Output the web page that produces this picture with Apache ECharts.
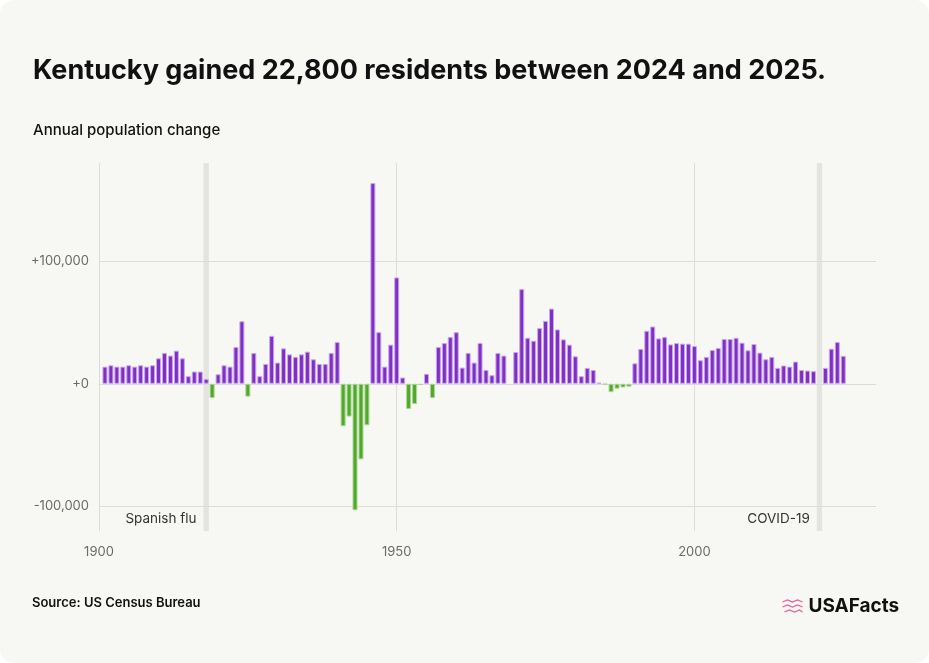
<!DOCTYPE html>
<html>
<head>
<meta charset="utf-8">
<script src="https://cdn.jsdelivr.net/npm/echarts@6/dist/echarts.min.js"></script>
<style>
  html, body { margin: 0; padding: 0; background: #ffffff; }
  #chart { width: 929px; height: 663px; background: #f7f7f3; border-radius: 14px; overflow: hidden; }
</style>
</head>
<body>
<div id="chart"></div>
<script>
// Kentucky annual population change, one value per year (1901 ... 2025)
const firstYear = 1901;
const popChange = [
  14000, 15100, 14000, 14000, 15100, 14000, 15100, 14000, 15100, 20800,   // 1901-1910
  25100, 23000, 27000, 20800, 6200, 10000, 10000, 4000, -11600, 7800,     // 1911-1920
  15100, 14000, 30000, 51000, -10500, 25100, 6200, 16200, 39100, 17300,   // 1921-1930
  28900, 24000, 21900, 24000, 26200, 20000, 16200, 16200, 25100, 34000,   // 1931-1940
  -34600, -26700, -103100, -61600, -33800, 163600, 42100, 14000, 31900, 86700, // 1941-1950
  5100, -20500, -16500, -1000, 8100, -11600, 30000, 33200, 38100, 42100,  // 1951-1960
  13200, 25100, 17300, 33200, 11300, 7000, 25100, 23000, null, 25900,     // 1961-1970
  77200, 37500, 35100, 45400, 51300, 61300, 44300, 36200, 31900, 22400,   // 1971-1980
  6200, 13000, 11300, 1000, -500, -6800, -4000, -3000, -2400, 16700,      // 1981-1990
  28400, 43200, 46700, 37000, 38100, 32100, 33200, 32700, 32700, 30800,   // 1991-2000
  19200, 21900, 27500, 29200, 36500, 36500, 37500, 33500, 27300, 32400,   // 2001-2010
  25400, 20000, 21900, 13000, 14900, 14000, 18100, 11300, 10800, 10300,   // 2011-2020
  null, 13000, 28600, 34000, 22800                                        // 2021-2025
];
const years = popChange.map((v, i) => firstYear + i);

// shaded events
const eventNames = ['Spanish flu', 'COVID-19'];
const eventYears = [1918, 2021];

const yTicks = [-100000, 0, 100000];
const xTicks = [1900, 1950, 2000];

const purple = '#7f2fc5';
const purpleEdge = '#c7a8e8';
const green = '#52a82a';
const greenEdge = '#aad697';

let chart = echarts.init(document.getElementById('chart'));

// one bar per year, coloured by sign
const barData = years.map((y, i) => {
  let v = popChange[i];
  let neg = v !== null && v < 0;
  return {
    value: [y, v],
    itemStyle: {
      color: neg ? green : purple,
      borderColor: neg ? greenEdge : purpleEdge,
      borderWidth: 1
    }
  };
});

let option = {
  backgroundColor: 'transparent',
  animation: false,
  textStyle: { fontFamily: 'Inter' },
  title: [
    {
      text: 'Kentucky gained 22,800 residents between 2024 and 2025.',
      left: 28, top: 52,
      textStyle: { fontSize: 27, fontWeight: 700, color: '#111111', fontFamily: 'Inter', letterSpacing: -0.8 }
    },
    {
      text: 'Annual population change',
      left: 28, top: 118,
      textStyle: { fontSize: 15, fontWeight: 500, color: '#111111', fontFamily: 'Inter', letterSpacing: -0.2 }
    }
  ],
  grid: { left: 99, right: 53, top: 163, bottom: 132 },
  xAxis: {
    type: 'value',
    min: 1900,
    max: 2030.5,
    interval: 50,
    axisLine: { show: true, lineStyle: { color: '#dcdcd8', width: 1 } },
    axisTick: { show: false },
    axisLabel: {
      color: '#6a6a6a', fontSize: 13, margin: 15, showMaxLabel: false,
      formatter: v => (xTicks.indexOf(v) >= 0 ? String(v) : '')
    },
    splitLine: { show: true, showMaxLine: false, lineStyle: { color: '#dcdcd8', width: 1 } }
  },
  yAxis: {
    type: 'value',
    min: -120000,
    max: 180000,
    interval: 20000,
    axisLine: { show: false },
    axisTick: { show: false },
    splitLine: { show: false },
    axisLabel: {
      color: '#6a6a6a', fontSize: 13, margin: 10,
      formatter: v => {
        if (yTicks.indexOf(v) < 0) return '';
        let s = Math.abs(v).toLocaleString('en-US');
        return (v < 0 ? '-' : '+') + s;
      }
    }
  },
  series: [
    {
      type: 'bar',
      data: barData,
      barWidth: 5,
      markLine: {
        silent: true,
        symbol: 'none',
        z: 1,
        label: { show: false },
        lineStyle: { color: '#dcdcd8', width: 1, type: 'solid' },
        data: yTicks.map(v => ({ yAxis: v }))
      },
      markArea: {
        silent: true,
        z: 1,
        itemStyle: { color: '#e3e3df' },
        label: {
          show: true,
          position: [-7, 356],
          align: 'right',
          verticalAlign: 'middle',
          color: '#333333',
          fontSize: 13.5,
          fontFamily: 'Inter'
        },
        data: eventYears.map((y, i) => [
          { name: eventNames[i], xAxis: y - 0.45 },
          { xAxis: y + 0.45 }
        ])
      }
    }
  ],
  graphic: [
    {
      type: 'text', left: 32, top: 597,
      style: { text: 'Source: US Census Bureau', fontSize: 13, fontWeight: 600, fill: '#111111', fontFamily: 'Inter', letterSpacing: -0.3 }
    },
    {
      type: 'group', left: 780, top: 597,
      children: [
        { type: 'polyline', shape: { points: [[0, 3], [5, 1], [10, 3], [15, 1], [20, 3]] }, style: { stroke: '#ec5d9d', lineWidth: 1.3, fill: 'none' } },
        { type: 'polyline', shape: { points: [[0, 8], [5, 6], [10, 8], [15, 6], [20, 8]] }, style: { stroke: '#ec5d9d', lineWidth: 1.3, fill: 'none' } },
        { type: 'polyline', shape: { points: [[2, 13], [7, 11], [12, 13], [17, 11], [20, 13]] }, style: { stroke: '#ec5d9d', lineWidth: 1.3, fill: 'none' } },
        { type: 'text', x: 26, y: -2, style: { text: 'USAFacts', fontSize: 19, fontWeight: 700, fill: '#111111', fontFamily: 'Inter', letterSpacing: -0.8 } }
      ]
    }
  ]
};

chart.setOption(option);
</script>
</body>
</html>
